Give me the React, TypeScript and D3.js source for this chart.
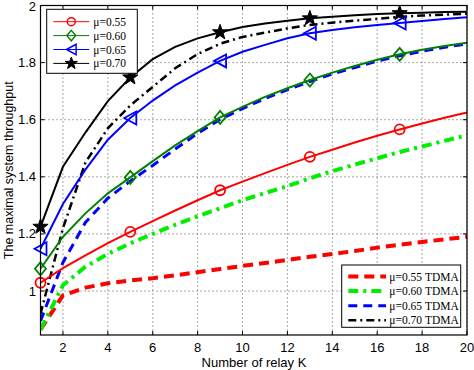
import React from "react";
import * as d3 from "d3";

const K = [1,2,3,4,5,6,7,8,9,10,11,12,13,14,15,16,17,18,19,20];
const mu55 = [1.029,1.08,1.125,1.168,1.207,1.245,1.282,1.318,1.353,1.383,1.413,1.442,1.47,1.495,1.52,1.544,1.566,1.587,1.607,1.625];
const mu60 = [1.078,1.19,1.272,1.342,1.398,1.455,1.51,1.56,1.608,1.645,1.68,1.71,1.739,1.765,1.788,1.81,1.829,1.845,1.858,1.870];
const mu65 = [1.148,1.305,1.425,1.53,1.606,1.667,1.72,1.765,1.806,1.838,1.862,1.885,1.903,1.914,1.924,1.932,1.939,1.946,1.953,1.959];
const mu70 = [1.225,1.435,1.555,1.665,1.748,1.812,1.855,1.885,1.906,1.925,1.937,1.947,1.955,1.961,1.966,1.97,1.973,1.975,1.977,1.978];
const tdma55 = [0.865,0.985,1.012,1.027,1.037,1.045,1.055,1.066,1.077,1.088,1.098,1.109,1.12,1.13,1.14,1.152,1.162,1.172,1.181,1.19];
const tdma60 = [0.865,1.02,1.085,1.13,1.167,1.2,1.232,1.262,1.29,1.318,1.343,1.367,1.395,1.42,1.443,1.465,1.487,1.506,1.526,1.546];
const tdma65 = [0.895,1.1,1.24,1.325,1.385,1.44,1.497,1.552,1.601,1.639,1.674,1.705,1.734,1.76,1.783,1.805,1.824,1.84,1.854,1.866];
const tdma70 = [0.92,1.22,1.45,1.57,1.65,1.715,1.78,1.83,1.866,1.89,1.905,1.92,1.932,1.94,1.947,1.953,1.96,1.965,1.968,1.971];
const markerK = [1,5,9,13,17];
const xTicks = [2,4,6,8,10,12,14,16,18,20];
const yTicks = [1,1.2,1.4,1.6,1.8,2];
const legend1 = ["μ=0.55","μ=0.60","μ=0.65","μ=0.70"];
const legend2 = ["μ=0.55 TDMA","μ=0.60 TDMA","μ=0.65 TDMA","μ=0.70 TDMA"];

const L = 40.5, R = 467, T = 5.5, B = 335;
const x = d3.scaleLinear().domain([1,20]).range([L,R]);
const y = d3.scaleLinear().domain([0.846,2]).range([B,T]);

const solid = [
  { data: mu55, color: "#ff0000", marker: "circle" },
  { data: mu60, color: "#008000", marker: "diamond" },
  { data: mu65, color: "#0000ff", marker: "tri" },
  { data: mu70, color: "#000000", marker: "star" },
];
const dashed = [
  { data: tdma55, color: "#ff0000", w: 4, dash: "10,6" },
  { data: tdma60, color: "#00ee00", w: 4, dash: "10,5,3,5" },
  { data: tdma65, color: "#0000ff", w: 3, dash: "9,6" },
  { data: tdma70, color: "#000000", w: 2.5, dash: "8,4,2,4" },
];

function Marker({ type, cx, cy, color, s = 1 }: any) {
  if (type === "circle") return <circle cx={cx} cy={cy} r={5 * s} fill="none" stroke={color} strokeWidth={1.8 * s} />;
  if (type === "diamond") return <path d={`M${cx},${cy-6.5*s}L${cx+5.5*s},${cy}L${cx},${cy+6.5*s}L${cx-5.5*s},${cy}Z`} fill="none" stroke={color} strokeWidth={1.8 * s} />;
  if (type === "tri") return <path d={`M${cx-6*s},${cy}L${cx+6*s},${cy-6.5*s}L${cx+6*s},${cy+6.5*s}Z`} fill="none" stroke={color} strokeWidth={1.8 * s} />;
  const pts: string[] = [];
  for (let i = 0; i < 10; i++) {
    const r = (i % 2 === 0 ? 8 : 3.2) * s;
    const a = -Math.PI / 2 + (i * Math.PI) / 5;
    pts.push(`${cx + r * Math.cos(a)},${cy + r * Math.sin(a)}`);
  }
  return <polygon points={pts.join(" ")} fill={color} stroke={color} strokeWidth={1} />;
}

export default function App() {
  const line = d3.line<number>().x((_, i) => x(K[i])).y((d) => y(d));
  return (
    <svg width={474} height={370} style={{ position: "absolute", left: 0, top: 0, background: "#fff" }}>
      <defs>
        <clipPath id="clip"><rect x={L} y={T} width={R - L} height={B - T} /></clipPath>
      </defs>
      <rect x={0} y={0} width={474} height={370} fill="#fff" />
      {xTicks.map((t) => (
        <line key={"gx" + t} x1={x(t)} x2={x(t)} y1={T} y2={B} stroke="#555" strokeWidth={1} strokeDasharray="1,3" />
      ))}
      {yTicks.map((t) => (
        <line key={"gy" + t} x1={L} x2={R} y1={y(t)} y2={y(t)} stroke="#555" strokeWidth={1} strokeDasharray="1,3" />
      ))}
      <g clipPath="url(#clip)">
        {dashed.map((s, i) => (
          <path key={"d" + i} d={line(s.data) || ""} fill="none" stroke={s.color} strokeWidth={s.w} strokeDasharray={s.dash} />
        ))}
        {solid.map((s, i) => (
          <path key={"s" + i} d={line(s.data) || ""} fill="none" stroke={s.color} strokeWidth={2} />
        ))}
      </g>
      {solid.map((s, i) => markerK.map((k) => (
        <Marker key={"m" + i + k} type={s.marker} cx={x(k)} cy={y(s.data[k - 1])} color={s.color} />
      )))}
      <rect x={L} y={T} width={R - L} height={B - T} fill="none" stroke="#000" strokeWidth={1.2} />
      {xTicks.map((t) => (
        <g key={"tx" + t}>
          <line x1={x(t)} x2={x(t)} y1={B} y2={B - 4} stroke="#000" />
          <line x1={x(t)} x2={x(t)} y1={T} y2={T + 4} stroke="#000" />
          <text x={x(t)} y={352} textAnchor="middle" fontFamily="Liberation Sans, Arial, sans-serif" fontSize={13}>{t}</text>
        </g>
      ))}
      {yTicks.map((t) => (
        <g key={"ty" + t}>
          <line x1={L} x2={L + 4} y1={y(t)} y2={y(t)} stroke="#000" />
          <line x1={R} x2={R - 4} y1={y(t)} y2={y(t)} stroke="#000" />
          <text x={36} y={Math.max(y(t) + 4.5, 11)} textAnchor="end" fontFamily="Liberation Sans, Arial, sans-serif" fontSize={13}>{d3.format("~g")(t)}</text>
        </g>
      ))}
      <text x={254} y={367} textAnchor="middle" fontFamily="Liberation Sans, Arial, sans-serif" fontSize={13}>Number of relay K</text>
      <text transform={`translate(13,${(T + B) / 2}) rotate(-90)`} textAnchor="middle" fontFamily="Liberation Sans, Arial, sans-serif" fontSize={12.5}>The maximal system throughput</text>

      <rect x={46.7} y={9.3} width={90.6} height={64} fill="#fff" stroke="#000" strokeWidth={1} />
      {solid.map((s, i) => {
        const ly = 21.7 + i * 13.9;
        return (
          <g key={"l1" + i}>
            <line x1={53.3} x2={89.3} y1={ly} y2={ly} stroke={s.color} strokeWidth={1} />
            <Marker type={s.marker} cx={71.3} cy={ly} color={s.color} s={0.8} />
            <text x={93.3} y={ly + 4} fontFamily="Liberation Serif, Times New Roman, serif" fontSize={11.5}>{legend1[i]}</text>
          </g>
        );
      })}

      <rect x={341.7} y={265} width={119} height={62.3} fill="#fff" stroke="#000" strokeWidth={1} />
      {dashed.map((s, i) => {
        const ly = 276.5 + i * 14.6;
        return (
          <g key={"l2" + i}>
            <line x1={348.3} x2={386} y1={ly} y2={ly} stroke={s.color} strokeWidth={s.w} strokeDasharray={s.dash} />
            <text x={389.3} y={ly + 4} fontFamily="Liberation Serif, Times New Roman, serif" fontSize={11.5}>{legend2[i]}</text>
          </g>
        );
      })}
    </svg>
  );
}
